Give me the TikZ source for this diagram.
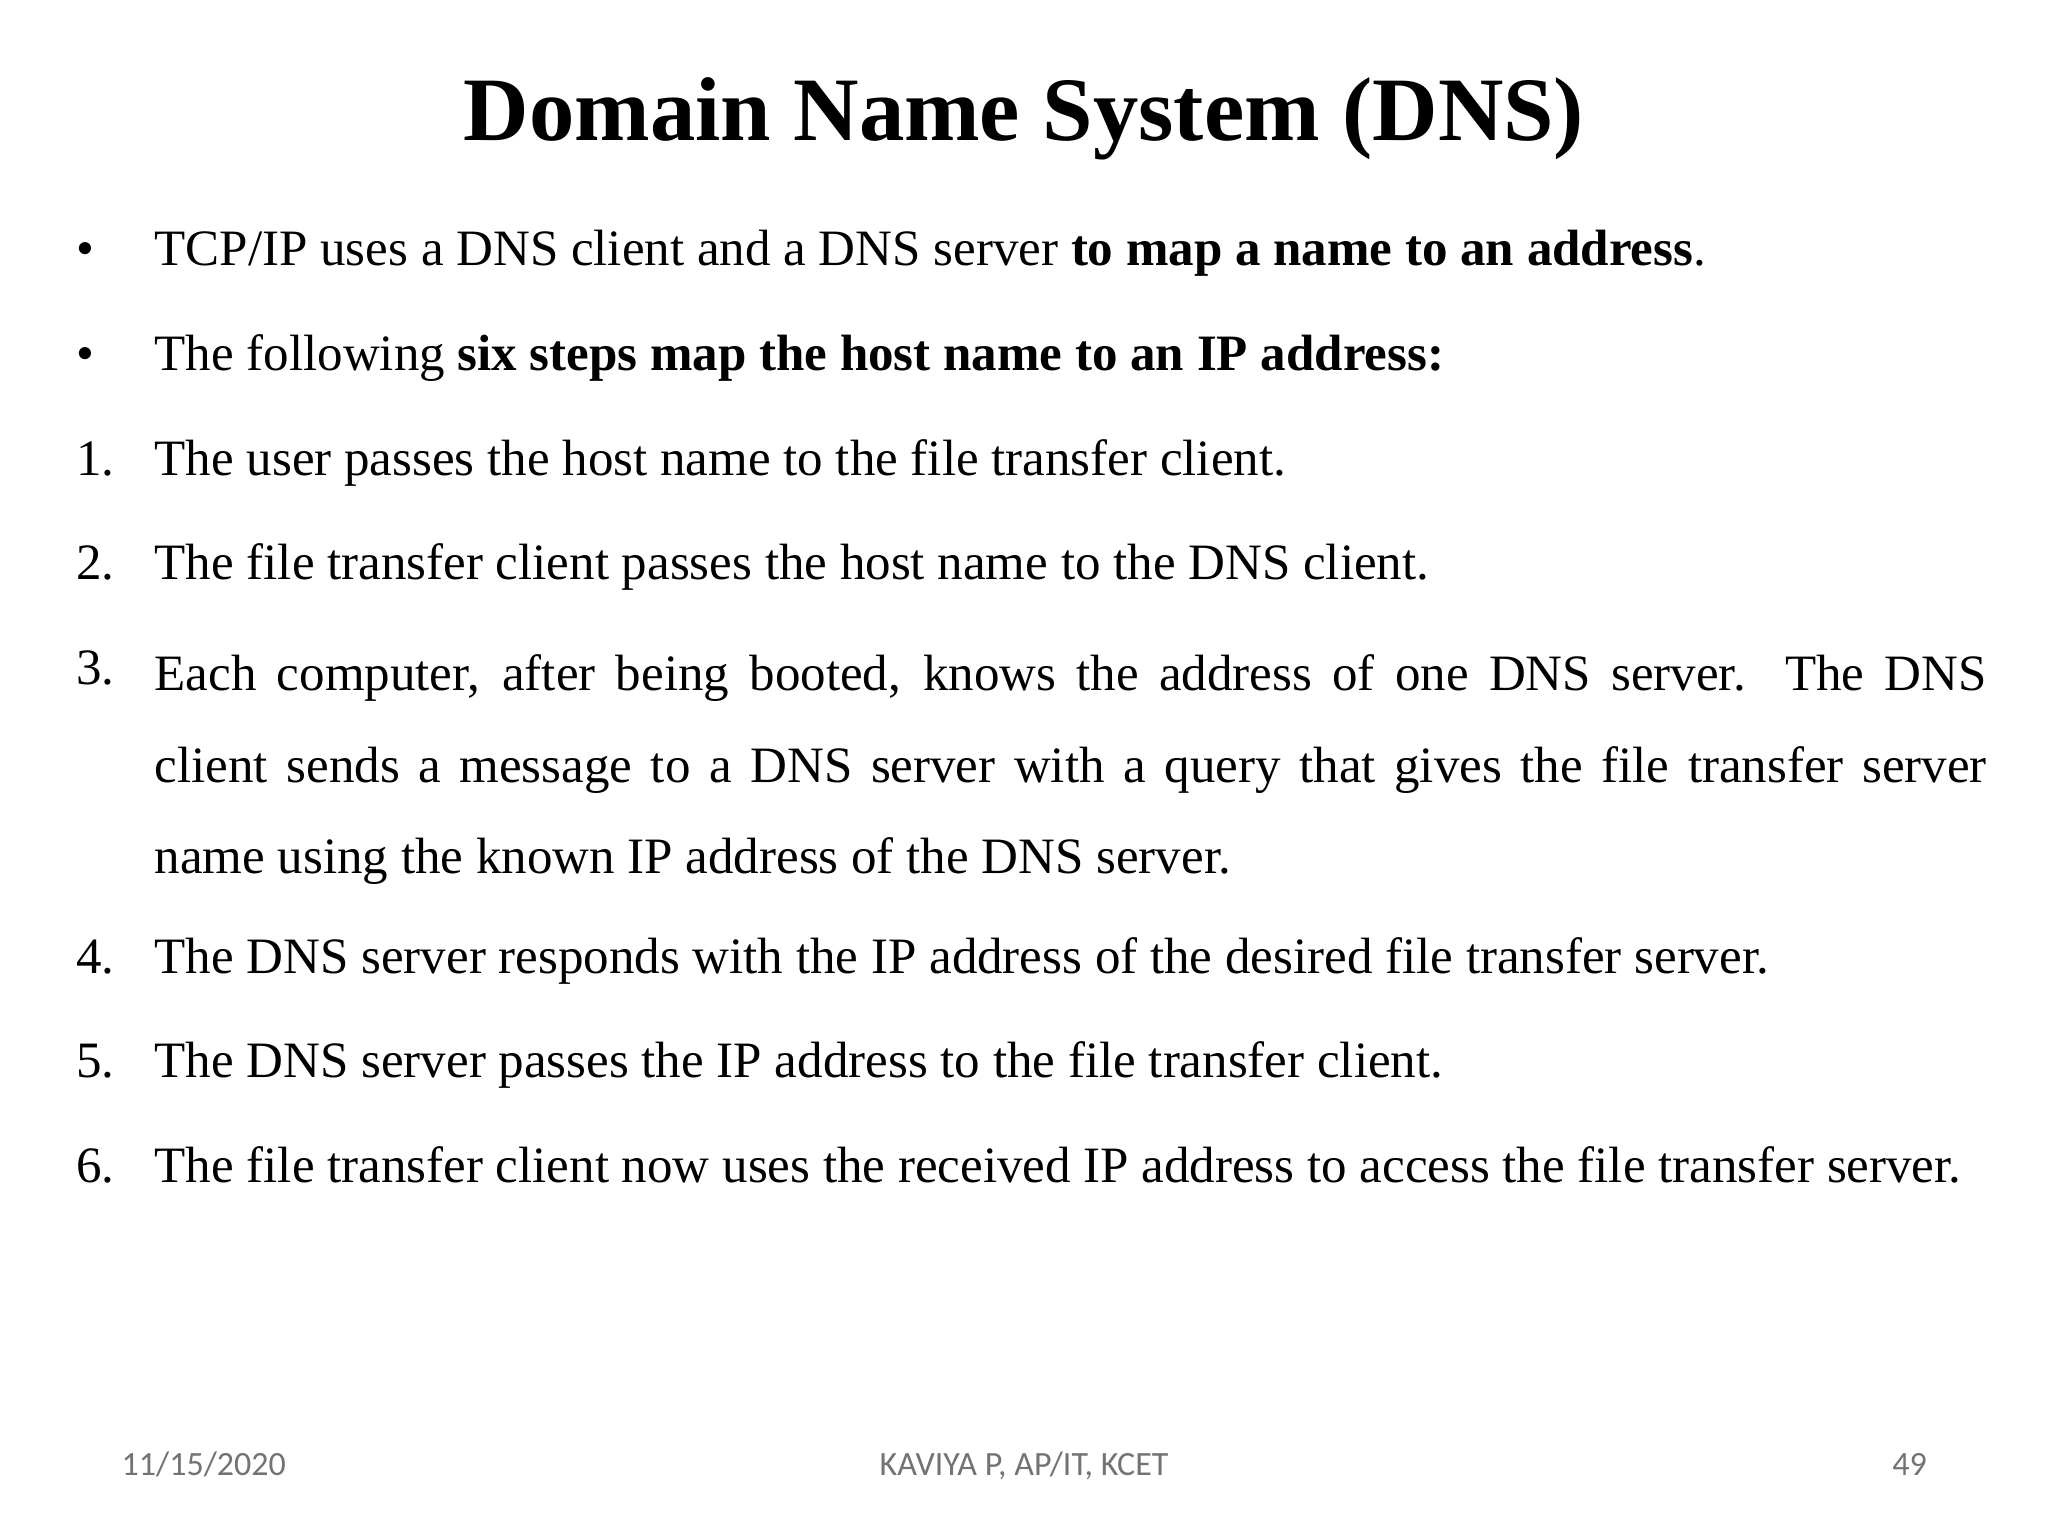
\documentclass[tikz,border=0pt]{standalone}
\usepackage{fontspec}
\setmainfont{Liberation Serif}
\newfontfamily\footfont{Carlito}
\usetikzlibrary{positioning}

\begin{document}
\begin{tikzpicture}[x=0.0162cm,y=-0.0162cm,
        itemtext/.style={anchor=base west,inner sep=0pt,font=\fontsize{18}{32.2}\selectfont},
        marker/.style={anchor=base west,inner sep=0pt,font=\fontsize{18}{32.2}\selectfont},
        foot/.style={anchor=base,inner sep=0pt,text=black!55,font=\footfont\fontsize{12}{14}\selectfont}]

  \useasboundingbox (0,0) rectangle (1568,1176);

  \node[inner sep=0pt,font=\fontsize{32}{38}\selectfont\bfseries] (title) at (784,91) {Domain Name System (DNS)};

  % bullets
  \node[marker] (b1) at (58,203) {\textbullet};
  \node[itemtext] (t1) at (118,203) {TCP/IP uses a DNS client and a DNS server \textbf{to map a name to an address}.};
  \node[marker] (b2) at (58,284) {\textbullet};
  \node[itemtext] (t2) at (118,284) {The following \textbf{six steps map the host name to an IP address:}};

  % steps
  \node[marker] (n1) at (58,364) {1.};
  \node[itemtext] (s1) at (118,364) {The user passes the host name to the file transfer client.};
  \node[marker] (n2) at (58,444) {2.};
  \node[itemtext] (s2) at (118,444) {The file transfer client passes the host name to the DNS client.};
  \node[marker] (n3) at (58,524) {3.};
  \node[itemtext,anchor=north west,text width=22.73cm,align=justify] (s3) at (118,501)
    {Each computer, after being booted, knows the address of one DNS server. The DNS\linebreak client sends a message to a DNS server with a query that gives the file transfer server\linebreak name using the known IP address of the DNS server.};
  \node[marker] (n4) at (58,745) {4.};
  \node[itemtext] (s4) at (118,745) {The DNS server responds with the IP address of the desired file transfer server.};
  \node[marker] (n5) at (58,825) {5.};
  \node[itemtext] (s5) at (118,825) {The DNS server passes the IP address to the file transfer client.};
  \node[marker] (n6) at (58,905) {6.};
  \node[itemtext] (s6) at (118,905) {The file transfer client now uses the received IP address to access the file transfer server.};

  % footer
  \node[foot] (date) at (156,1130) {11/15/2020};
  \node[foot] (author) at (784,1130) {KAVIYA P, AP/IT, KCET};
  \node[foot] (page) at (1462,1130) {49};
\end{tikzpicture}
\end{document}
